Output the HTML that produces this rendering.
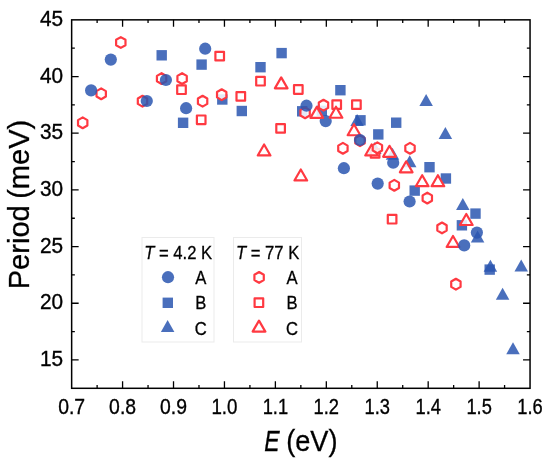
<!DOCTYPE html>
<html lang="en"><head><meta charset="utf-8"><title>Period vs E</title>
<style>
html,body{margin:0;padding:0;background:#fff;}
body{width:550px;height:463px;overflow:hidden;}
svg{display:block;font-family:"Liberation Sans",sans-serif;}
.b{fill:#2a56b0;fill-opacity:0.85;}
.rs,.rt,.rh{fill:rgba(255,255,255,0.85);stroke:#ff3941;stroke-linejoin:round;stroke-width:2.2;}
</style></head><body>
<svg width="550" height="463" viewBox="0 0 550 463">
<rect width="550" height="463" fill="#fff"/>
<path d="M97.12 388.3v-3.2M97.12 19.85v3.2M122.58 388.3v-7M122.58 19.85v7M148.05 388.3v-3.2M148.05 19.85v3.2M173.52 388.3v-7M173.52 19.85v7M198.98 388.3v-3.2M198.98 19.85v3.2M224.45 388.3v-7M224.45 19.85v7M249.92 388.3v-3.2M249.92 19.85v3.2M275.38 388.3v-7M275.38 19.85v7M300.85 388.3v-3.2M300.85 19.85v3.2M326.32 388.3v-7M326.32 19.85v7M351.78 388.3v-3.2M351.78 19.85v3.2M377.25 388.3v-7M377.25 19.85v7M402.72 388.3v-3.2M402.72 19.85v3.2M428.18 388.3v-7M428.18 19.85v7M453.65 388.3v-3.2M453.65 19.85v3.2M479.12 388.3v-7M479.12 19.85v7M504.58 388.3v-3.2M504.58 19.85v3.2M71.65 359.96h7M530.05 359.96h-7M71.65 331.62h3.2M530.05 331.62h-3.2M71.65 303.27h7M530.05 303.27h-7M71.65 274.93h3.2M530.05 274.93h-3.2M71.65 246.59h7M530.05 246.59h-7M71.65 218.25h3.2M530.05 218.25h-3.2M71.65 189.9h7M530.05 189.9h-7M71.65 161.56h3.2M530.05 161.56h-3.2M71.65 133.22h7M530.05 133.22h-7M71.65 104.88h3.2M530.05 104.88h-3.2M71.65 76.53h7M530.05 76.53h-7M71.65 48.19h3.2M530.05 48.19h-3.2" stroke="#000" stroke-width="1.3" fill="none"/>
<rect x="71.65" y="19.85" width="458.4" height="368.45" fill="none" stroke="#000" stroke-width="1.5"/>
<g font-size="21.8" fill="#000" stroke="#000" stroke-width="0.35">
<text transform="translate(71.65 413.5) scale(0.89 1)" text-anchor="middle">0.7</text>
<text transform="translate(122.58 413.5) scale(0.89 1)" text-anchor="middle">0.8</text>
<text transform="translate(173.52 413.5) scale(0.89 1)" text-anchor="middle">0.9</text>
<text transform="translate(224.45 413.5) scale(0.86 1)" text-anchor="middle">1.0</text>
<text transform="translate(275.38 413.5) scale(0.84 1)" text-anchor="middle">1.1</text>
<text transform="translate(326.32 413.5) scale(0.84 1)" text-anchor="middle">1.2</text>
<text transform="translate(377.25 413.5) scale(0.84 1)" text-anchor="middle">1.3</text>
<text transform="translate(428.18 413.5) scale(0.84 1)" text-anchor="middle">1.4</text>
<text transform="translate(479.12 413.5) scale(0.84 1)" text-anchor="middle">1.5</text>
<text transform="translate(530.05 413.5) scale(0.84 1)" text-anchor="middle">1.6</text>
<text transform="translate(63.2 366.06) scale(0.955 1)" text-anchor="end">15</text>
<text transform="translate(63.2 309.37) scale(0.955 1)" text-anchor="end">20</text>
<text transform="translate(63.2 252.69) scale(0.955 1)" text-anchor="end">25</text>
<text transform="translate(63.2 196) scale(0.955 1)" text-anchor="end">30</text>
<text transform="translate(63.2 139.32) scale(0.955 1)" text-anchor="end">35</text>
<text transform="translate(63.2 82.63) scale(0.955 1)" text-anchor="end">40</text>
<text transform="translate(63.2 25.95) scale(0.955 1)" text-anchor="end">45</text>
</g>
<text transform="translate(264.2 451.2) scale(0.765 1)" font-size="30.1" font-style="italic" stroke="#000" stroke-width="0.35">E</text>
<text transform="translate(286.2 451.2) scale(0.903 1)" font-size="30.1" stroke="#000" stroke-width="0.3">(eV)</text>
<text transform="translate(29.2 204.5) rotate(-90) scale(0.963 1)" word-spacing="-1.7" font-size="30.2" text-anchor="middle" stroke="#000" stroke-width="0.3">Period (meV)</text>
<g class="b">
<rect x="156.5" y="50.1" width="10.4" height="10.4"/>
<rect x="177.9" y="117.6" width="10.4" height="10.4"/>
<rect x="196.4" y="59.4" width="10.4" height="10.4"/>
<rect x="217.1" y="94.3" width="10.4" height="10.4"/>
<rect x="236.6" y="105.8" width="10.4" height="10.4"/>
<rect x="255.3" y="62" width="10.4" height="10.4"/>
<rect x="276.4" y="47.9" width="10.4" height="10.4"/>
<rect x="297" y="106.1" width="10.4" height="10.4"/>
<rect x="316.6" y="105.6" width="10.4" height="10.4"/>
<rect x="335.2" y="85" width="10.4" height="10.4"/>
<rect x="355.3" y="115.1" width="10.4" height="10.4"/>
<rect x="373.1" y="129.2" width="10.4" height="10.4"/>
<rect x="391" y="117.5" width="10.4" height="10.4"/>
<rect x="409.5" y="185.4" width="10.4" height="10.4"/>
<rect x="424.3" y="162" width="10.4" height="10.4"/>
<rect x="440.7" y="173.3" width="10.4" height="10.4"/>
<rect x="456.7" y="220.1" width="10.4" height="10.4"/>
<rect x="470.3" y="208.4" width="10.4" height="10.4"/>
<rect x="484.5" y="264.4" width="10.4" height="10.4"/>
<polygon points="374.8,142.1 381.55,154.1 368.05,154.1"/>
<polygon points="357.1,113.95 363.85,125.95 350.35,125.95"/>
<polygon points="392.5,147.65 399.25,159.65 385.75,159.65"/>
<polygon points="409.7,155.35 416.45,167.35 402.95,167.35"/>
<polygon points="426.1,94.1 432.85,106.1 419.35,106.1"/>
<polygon points="445.4,127.05 452.15,139.05 438.65,139.05"/>
<polygon points="462.8,197.95 469.55,209.95 456.05,209.95"/>
<polygon points="477.6,230.55 484.35,242.55 470.85,242.55"/>
<polygon points="490.4,259.65 497.15,271.65 483.65,271.65"/>
<polygon points="521.2,259.4 527.95,271.4 514.45,271.4"/>
<polygon points="502.6,287.65 509.35,299.65 495.85,299.65"/>
<polygon points="513,342.2 519.75,354.2 506.25,354.2"/>
<circle cx="325.7" cy="121.1" r="6.1"/>
<circle cx="393.2" cy="162.7" r="6.1"/>
</g>
<g class="rs">
<rect x="177.2" y="85.4" width="8.6" height="8.6"/>
<rect x="196.9" y="115.5" width="8.6" height="8.6"/>
<rect x="215.4" y="51.8" width="8.6" height="8.6"/>
<rect x="236.5" y="92.1" width="8.6" height="8.6"/>
<rect x="256.2" y="76.9" width="8.6" height="8.6"/>
<rect x="276.3" y="124.1" width="8.6" height="8.6"/>
<rect x="294" y="85.2" width="8.6" height="8.6"/>
<rect x="332.4" y="100.3" width="8.6" height="8.6"/>
<rect x="352.1" y="100.3" width="8.6" height="8.6"/>
<rect x="370.8" y="149.1" width="8.6" height="8.6"/>
<rect x="387.8" y="214.9" width="8.6" height="8.6"/>
</g>
<g class="rt">
<polygon points="264.1,144.45 270.45,155.45 257.75,155.45"/>
<polygon points="281.2,77.35 287.55,88.35 274.85,88.35"/>
<polygon points="300.8,169.45 307.15,180.45 294.45,180.45"/>
<polygon points="316.8,106.9 323.15,117.9 310.45,117.9"/>
<polygon points="336,106.75 342.35,117.75 329.65,117.75"/>
<polygon points="354,124.25 360.35,135.25 347.65,135.25"/>
<polygon points="371.6,144.45 377.95,155.45 365.25,155.45"/>
<polygon points="389.5,145.8 395.85,156.8 383.15,156.8"/>
<polygon points="406.2,161.3 412.55,172.3 399.85,172.3"/>
<polygon points="422.2,175.2 428.55,186.2 415.85,186.2"/>
<polygon points="437.9,175.2 444.25,186.2 431.55,186.2"/>
<polygon points="453,235.95 459.35,246.95 446.65,246.95"/>
<polygon points="466.3,214 472.65,225 459.95,225"/>
</g>
<g class="rh">
<polygon points="82.7,117.4 78.02,120.1 78.02,125.5 82.7,128.2 87.38,125.5 87.38,120.1"/>
<polygon points="101.2,88.4 96.52,91.1 96.52,96.5 101.2,99.2 105.88,96.5 105.88,91.1"/>
<polygon points="120.8,37.1 116.12,39.8 116.12,45.2 120.8,47.9 125.48,45.2 125.48,39.8"/>
<polygon points="142.5,95.8 137.82,98.5 137.82,103.9 142.5,106.6 147.18,103.9 147.18,98.5"/>
<polygon points="161.6,73.2 156.92,75.9 156.92,81.3 161.6,84 166.28,81.3 166.28,75.9"/>
<polygon points="182.1,73.2 177.42,75.9 177.42,81.3 182.1,84 186.78,81.3 186.78,75.9"/>
<polygon points="202.6,95.8 197.92,98.5 197.92,103.9 202.6,106.6 207.28,103.9 207.28,98.5"/>
<polygon points="221.7,89.3 217.02,92 217.02,97.4 221.7,100.1 226.38,97.4 226.38,92"/>
<polygon points="305.1,107.4 300.42,110.1 300.42,115.5 305.1,118.2 309.78,115.5 309.78,110.1"/>
<polygon points="323.5,99.8 318.82,102.5 318.82,107.9 323.5,110.6 328.18,107.9 328.18,102.5"/>
<polygon points="342.9,142.9 338.22,145.6 338.22,151 342.9,153.7 347.58,151 347.58,145.6"/>
<polygon points="360,135.3 355.32,138 355.32,143.4 360,146.1 364.68,143.4 364.68,138"/>
<polygon points="377.4,142.4 372.72,145.1 372.72,150.5 377.4,153.2 382.08,150.5 382.08,145.1"/>
<polygon points="394.3,179.9 389.62,182.6 389.62,188 394.3,190.7 398.98,188 398.98,182.6"/>
<polygon points="410,142.9 405.32,145.6 405.32,151 410,153.7 414.68,151 414.68,145.6"/>
<polygon points="427.3,192.7 422.62,195.4 422.62,200.8 427.3,203.5 431.98,200.8 431.98,195.4"/>
<polygon points="442,222.5 437.32,225.2 437.32,230.6 442,233.3 446.68,230.6 446.68,225.2"/>
<polygon points="455.9,278.8 451.22,281.5 451.22,286.9 455.9,289.6 460.58,286.9 460.58,281.5"/>
</g>
<g class="b">
<circle cx="91.1" cy="90.4" r="6.1"/>
<circle cx="110.8" cy="59.6" r="6.1"/>
<circle cx="146.8" cy="101" r="6.1"/>
<circle cx="165.9" cy="80" r="6.1"/>
<circle cx="186.1" cy="108.2" r="6.1"/>
<circle cx="205.2" cy="48.7" r="6.1"/>
<circle cx="306.5" cy="105.7" r="6.1"/>
<circle cx="343.9" cy="168.2" r="6.1"/>
<circle cx="360" cy="140" r="6.1"/>
<circle cx="377.7" cy="183.6" r="6.1"/>
<circle cx="409.6" cy="201.5" r="6.1"/>
<circle cx="464.2" cy="245.4" r="6.1"/>
<circle cx="476.9" cy="232.6" r="6.1"/>
</g>
<g fill="#fff" stroke="#ebebeb" stroke-width="1">
<rect x="142" y="237.5" width="72" height="104.5"/>
<rect x="233.5" y="237.5" width="68" height="104.5"/>
</g>
<g class="b">
<circle cx="168" cy="277.2" r="6.1"/>
<rect x="162.6" y="297.6" width="10.4" height="10.4"/>
<polygon points="167.6,320.1 174.35,332.1 160.85,332.1"/>
</g>
<g class="rh">
<polygon points="259.1,272 254.42,274.7 254.42,280.1 259.1,282.8 263.78,280.1 263.78,274.7"/>
<rect x="254.6" y="298.4" width="8.6" height="8.6"/>
<polygon points="259,320.6 265.35,331.6 252.65,331.6"/>
</g>
<g font-size="19.2" fill="#000" stroke="#000" stroke-width="0.3">
<text transform="translate(144.2 258.7) scale(0.867 1)"><tspan font-style="italic">T</tspan> = 4.2 K</text>
<text transform="translate(236 258.7) scale(0.867 1)"><tspan font-style="italic">T</tspan> = 77 K</text>
<text transform="translate(200.8 284) scale(0.867 1)" text-anchor="middle">A</text>
<text transform="translate(292 284) scale(0.867 1)" text-anchor="middle">A</text>
<text transform="translate(200.8 309.3) scale(0.867 1)" text-anchor="middle">B</text>
<text transform="translate(292 309.3) scale(0.867 1)" text-anchor="middle">B</text>
<text transform="translate(200.8 334.6) scale(0.867 1)" text-anchor="middle">C</text>
<text transform="translate(292 334.6) scale(0.867 1)" text-anchor="middle">C</text>
</g>
</svg></body></html>
